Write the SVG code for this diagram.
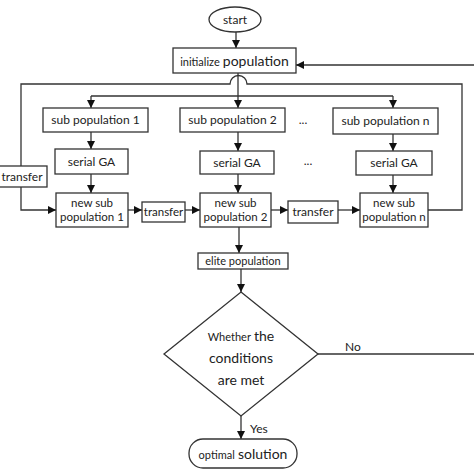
<svg xmlns="http://www.w3.org/2000/svg" width="474" height="474" viewBox="0 0 474 474">
<style>
.box{fill:#fff;stroke:#333;stroke-width:1.3}
.ln{fill:none;stroke:#333;stroke-width:1.3}
.t{font-family:Lato,"Liberation Sans",sans-serif;font-size:12px;fill:#222;text-anchor:middle}
.s{font-size:11px}
.b{font-size:14px}
.n{font-size:11.5px}
</style>
<defs>
<marker id="a" viewBox="0 0 10 10" refX="10" refY="5" markerWidth="8" markerHeight="8" markerUnits="userSpaceOnUse" orient="auto">
<path d="M0,0L10,5L0,10z" fill="#111"/>
</marker>
</defs>
<rect width="474" height="474" fill="#fff"/>
<g id="connectors">
<path class="ln" d="M236,32V48" marker-end="url(#a)"/>
<path class="ln" d="M474,65H296" marker-end="url(#a)"/>
<path class="ln" d="M238,73V108" marker-end="url(#a)"/>
<path class="ln" d="M91,96H393"/>
<path class="ln" d="M91,96V108" marker-end="url(#a)"/>
<path class="ln" d="M393,96V108" marker-end="url(#a)"/>
<path class="ln" d="M91,132V149" marker-end="url(#a)"/>
<path class="ln" d="M238,132V151" marker-end="url(#a)"/>
<path class="ln" d="M393,134V151" marker-end="url(#a)"/>
<path class="ln" d="M91,174V193" marker-end="url(#a)"/>
<path class="ln" d="M238,174V193" marker-end="url(#a)"/>
<path class="ln" d="M393,175V193" marker-end="url(#a)"/>
<path class="ln" d="M128,210H142" marker-end="url(#a)"/>
<path class="ln" d="M185,210H200" marker-end="url(#a)"/>
<path class="ln" d="M271,210H288" marker-end="url(#a)"/>
<path class="ln" d="M338,210H360" marker-end="url(#a)"/>
<path class="ln" d="M428,210H462V84H247A8.5,8.5 0 0 0 230,84H21V166"/>
<path class="ln" d="M21,187V210H56" marker-end="url(#a)"/>
<path class="ln" d="M239,227V253" marker-end="url(#a)"/>
<path class="ln" d="M241,269V292" marker-end="url(#a)"/>
<path class="ln" d="M318,354H474"/>
<path class="ln" d="M241,416V439" marker-end="url(#a)"/>
<text class="t" x="345" y="351" style="text-anchor:start">No</text>
<text class="t" x="250" y="433" style="text-anchor:start">Yes</text>
</g>
<g id="start">
<ellipse class="box" cx="235" cy="19.5" rx="26" ry="12.5"/>
<text class="t" x="235" y="24">start</text>
</g>
<g id="init">
<rect class="box" x="173" y="48" width="123" height="25"/>
<text class="t" x="234.5" y="66"><tspan class="s">initialize</tspan> <tspan class="b">population</tspan></text>
</g>
<g id="sub1">
<rect class="box" x="43" y="108" width="105" height="24"/>
<text class="t" x="95.5" y="124">sub population 1</text>
</g>
<g id="sub2">
<rect class="box" x="180" y="108" width="105" height="24"/>
<text class="t" x="232.5" y="124">sub population 2</text>
</g>
<g id="dots1"><text class="t" x="303" y="124">...</text></g>
<g id="subn">
<rect class="box" x="333" y="108" width="105" height="26"/>
<text class="t" x="385.5" y="125">sub population n</text>
</g>
<g id="ga1">
<rect class="box" x="55" y="149" width="73" height="25"/>
<text class="t" x="91.5" y="166">serial GA</text>
</g>
<g id="ga2">
<rect class="box" x="200" y="151" width="74" height="23"/>
<text class="t" x="237" y="167">serial GA</text>
</g>
<g id="dots2"><text class="t" x="308" y="165">...</text></g>
<g id="gan">
<rect class="box" x="356" y="151" width="76" height="24"/>
<text class="t" x="394" y="167">serial GA</text>
</g>
<g id="new1">
<rect class="box" x="56" y="193" width="72" height="34"/>
<text class="t n" x="92" y="207">new sub</text>
<text class="t n" x="92" y="221">population 1</text>
</g>
<g id="new2">
<rect class="box" x="200" y="193" width="71" height="34"/>
<text class="t n" x="235.5" y="207">new sub</text>
<text class="t n" x="235.5" y="221">population 2</text>
</g>
<g id="newn">
<rect class="box" x="360" y="193" width="68" height="34"/>
<text class="t n" x="394" y="207">new sub</text>
<text class="t n" x="394" y="221">population n</text>
</g>
<g id="transfer1">
<rect class="box" x="142" y="202" width="43" height="20"/>
<text class="t n" x="163.5" y="216">transfer</text>
</g>
<g id="transfer2">
<rect class="box" x="288" y="201" width="50" height="22"/>
<text class="t" x="313" y="216">transfer</text>
</g>
<g id="transfer0">
<rect class="box" x="-2" y="166" width="49" height="21"/>
<text class="t" x="22" y="181">transfer</text>
</g>
<g id="elite">
<rect class="box" x="198" y="253" width="90" height="16"/>
<text class="t s" x="243" y="265">elite population</text>
</g>
<g id="decision">
<path class="box" d="M241,292L318,354L241,416L164,354z"/>
<text class="t" x="241" y="341"><tspan class="s">Whether</tspan> <tspan class="b">the</tspan></text>
<text class="t b" x="241" y="363">conditions</text>
<text class="t b" x="241" y="385">are met</text>
</g>
<g id="optimal">
<rect class="box" x="189" y="439" width="108" height="29" rx="14"/>
<text class="t" x="243" y="459"><tspan class="s">optimal</tspan> <tspan class="b">solution</tspan></text>
</g>
</svg>
